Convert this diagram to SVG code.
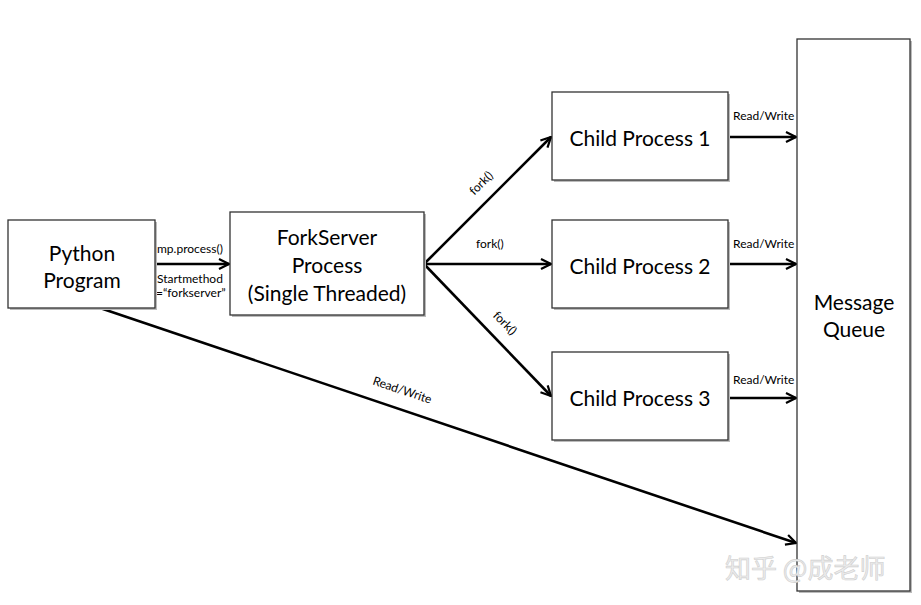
<svg xmlns="http://www.w3.org/2000/svg" width="921" height="605" viewBox="0 0 921 605">
<style>
.box{fill:#fff;stroke:#333;stroke-width:1.3}
.shadow{fill:#bbb}
.t{font-family:Lato,"Open Sans","Liberation Sans",sans-serif;font-size:21px;fill:#000;text-anchor:middle}
.s{font-family:Lato,"Open Sans","Liberation Sans",sans-serif;font-size:12px;fill:#000}
.c{stroke:#000;stroke-width:2.6;fill:none;marker-end:url(#ah)}
</style>
<defs>
<marker id="ah" viewBox="0 0 12 12" refX="11" refY="6" markerWidth="12" markerHeight="12" markerUnits="userSpaceOnUse" orient="auto">
<path d="M1,1 L11,6 L1,11" fill="none" stroke="#000" stroke-width="2.2"/>
</marker>
</defs>
<rect width="921" height="605" fill="#fff"/>
<g id="connectors">
<line class="c" x1="155" y1="264" x2="229" y2="264"/>
<line class="c" x1="424" y1="264" x2="551" y2="137"/>
<line class="c" x1="424" y1="264" x2="551" y2="264"/>
<line class="c" x1="424" y1="264" x2="551" y2="396"/>
<line class="c" x1="728" y1="137" x2="796" y2="137"/>
<line class="c" x1="728" y1="264" x2="796" y2="264"/>
<line class="c" x1="728" y1="398" x2="796" y2="398"/>
<line class="c" x1="100" y1="308" x2="796" y2="543"/>
<text class="s" x="157" y="253">mp.process()</text>
<text class="s" x="157" y="283">Startmethod</text>
<text class="s" x="156" y="297">=“forkserver”</text>
<text class="s" transform="translate(484,186) rotate(-45)" text-anchor="middle">fork()</text>
<text class="s" x="476" y="248">fork()</text>
<text class="s" transform="translate(502,326) rotate(45)" text-anchor="middle">fork()</text>
<text class="s" x="733" y="120">Read/Write</text>
<text class="s" x="733" y="248">Read/Write</text>
<text class="s" x="733" y="384">Read/Write</text>
<text class="s" transform="translate(401,394) rotate(18.6)" text-anchor="middle">Read/Write</text>
</g>
<g id="python">
<rect class="shadow" x="10" y="222" width="147" height="88"/>
<rect class="box" x="8" y="220" width="147" height="88"/>
<text class="t" x="82" y="261">Python</text>
<text class="t" x="82" y="288">Program</text>
</g>
<g id="forkserver">
<rect class="shadow" x="232" y="214" width="194" height="103"/>
<rect class="box" x="230" y="212" width="194" height="103"/>
<text class="t" x="327" y="245">ForkServer</text>
<text class="t" x="327" y="273">Process</text>
<text class="t" x="327" y="301">(Single Threaded)</text>
</g>
<g id="child1">
<rect class="shadow" x="554" y="94" width="176" height="88"/>
<rect class="box" x="552" y="92" width="176" height="88"/>
<text class="t" x="640" y="146">Child Process 1</text>
</g>
<g id="child2">
<rect class="shadow" x="554" y="222" width="176" height="88"/>
<rect class="box" x="552" y="220" width="176" height="88"/>
<text class="t" x="640" y="274">Child Process 2</text>
</g>
<g id="child3">
<rect class="shadow" x="554" y="354" width="176" height="88"/>
<rect class="box" x="552" y="352" width="176" height="88"/>
<text class="t" x="640" y="406">Child Process 3</text>
</g>
<g id="queue">
<rect class="shadow" x="799" y="41" width="113" height="552"/>
<rect class="box" x="797" y="39" width="113" height="552"/>
<text class="t" x="854" y="310">Message</text>
<text class="t" x="854" y="337">Queue</text>
</g>
<text x="725" y="578" font-family="'Noto Sans CJK SC',sans-serif" font-size="26" fill="#ececec" stroke="#cfcfcf" stroke-width="0.6">知乎 @成老师</text>
</svg>
